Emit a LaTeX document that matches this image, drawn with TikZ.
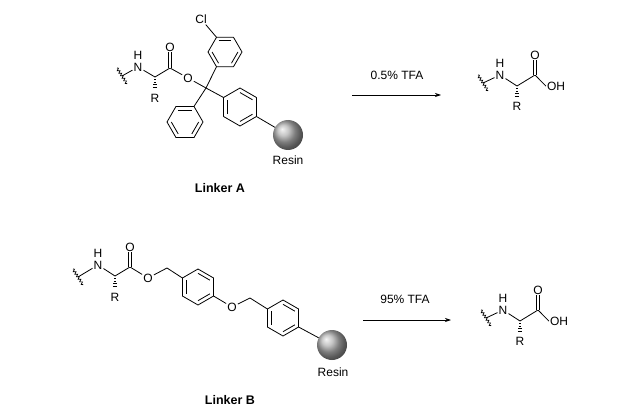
\documentclass[tikz,border=0pt]{standalone}
\usepackage{fontspec}
\setmainfont{Liberation Sans}
\usetikzlibrary{calc,arrows.meta,decorations.pathmorphing,shadings}
\newcommand\hexr[5]{%
 \foreach \k in {0,...,5} {\coordinate (#1-\k) at ($(#2,#3)+(#5+60*\k:#4)$);}
 \coordinate (#1-c) at (#2,#3);
 \draw[bond] (#1-0)--(#1-1)--(#1-2)--(#1-3)--(#1-4)--(#1-5)--cycle;
 \foreach \a/\b in {0/1,2/3,4/5}{\draw[bond] ($(#1-c)!0.76!(#1-\a)$) -- ($(#1-c)!0.76!(#1-\b)$);}
}
\newcommand\hashb[2]{% Ca coordinate x,y (downwards)
 \foreach \t in {0.15,0.35,0.55,0.75}{\draw[line width=0.6pt] ($(#1,#2)+(-0.6-2*\t,14*\t)$) -- ($(#1,#2)+(0.6+2*\t,14*\t)$);}
}
\begin{document}
\begin{tikzpicture}[x=1pt,y=-1pt,
  bond/.style={line width=0.8pt,line join=round},
  atom/.style={inner sep=1pt,font=\fontsize{12}{13}\selectfont},
  lbl/.style={inner sep=1pt,font=\fontsize{12}{13}\selectfont},
  title/.style={inner sep=1pt,font=\fontsize{12.5}{14}\selectfont\bfseries},
  resin/.style={circle,minimum size=30pt,inner sep=0pt,ball color=gray!60},
  wav/.style={line width=0.7pt,decorate,decoration={snake,segment length=3pt,amplitude=1.2pt}},
  dbl/.style={line width=0.8pt,double,double distance=2pt},
  rxn/.style={line width=0.7pt,-{Stealth[length=6pt,width=4pt]}}]
\useasboundingbox (0,0) rectangle (642,417);
% ---------- Linker A ----------
\coordinate (wA) at (122,76);
\draw[wav] ($(wA)+(-5,-8)$) -- ($(wA)+(5,8)$);
\node[atom] (NA) at (138,67) {N};
\node[atom] (HA) at (138,55) {H};
\coordinate (CaA) at (155,77);
\node[atom] (RA) at (155,98) {R};
\coordinate (CA) at (170,68);
\node[atom] (OA) at (170,47) {O};
\node[atom] (OeA) at (188,78) {O};
\coordinate (CtA) at (206,88);
\draw[bond] (wA) -- (NA) -- (CaA) -- (CA) -- (OeA) -- (CtA);
\draw[dbl] (CA) -- (OA);
\hashb{155}{77}
\hexr{A1}{225}{52}{17}{0}
\hexr{A2}{240}{107}{19}{30}
\hexr{A3}{185}{122}{18}{0}
\node[atom] (Cl) at (201,19) {Cl};
\draw[bond] (A1-4) -- (Cl);
\draw[bond] (CtA) -- (A1-2);
\draw[bond] (CtA) -- (A2-3);
\draw[bond] (CtA) -- (A3-5);
\node[resin] (ballA) at (288,135) {};
\draw[bond] (A2-0) -- (ballA);
\node[lbl] (resA) at (288,160) {Resin};
\node[title] (titA) at (220,188) {Linker A};
% arrow A
\coordinate (a1) at (352,95);
\coordinate (a2) at (441,95);
\draw[rxn] (a1) -- (a2);
\node[lbl] (tA) at (397,75) {0.5\% TFA};
% product A
\coordinate (wP) at (483,83);
\draw[wav] ($(wP)+(-5,-8)$) -- ($(wP)+(5,8)$);
\node[atom] (NP) at (500,75) {N};
\node[atom] (HP) at (500,63) {H};
\coordinate (CaP) at (517,86);
\node[atom] (RP) at (517,106) {R};
\coordinate (CP) at (535,75);
\node[atom] (OP) at (535,55) {O};
\node[atom] (OHP) at (556,86) {OH};
\draw[bond] (wP) -- (NP) -- (CaP) -- (CP) -- (OHP.west);
\draw[dbl] (CP) -- (OP);
\hashb{517}{86}
% ---------- Linker B ----------
\coordinate (wB) at (78,277);
\draw[wav] ($(wB)+(-5,-8)$) -- ($(wB)+(5,8)$);
\node[atom] (NB) at (98,265) {N};
\node[atom] (HB) at (98,253) {H};
\coordinate (CaB) at (115,276);
\node[atom] (RB) at (115,297) {R};
\coordinate (CB) at (130,267);
\node[atom] (OB) at (130,247) {O};
\node[atom] (OeB) at (148,278) {O};
\coordinate (M1) at (167,268);
\draw[bond] (wB) -- (NB) -- (CaB) -- (CB) -- (OeB) -- (M1);
\draw[dbl] (CB) -- (OB);
\hashb{115}{276}
\hexr{B1}{198}{287}{18}{30}
\draw[bond] (M1) -- (B1-3);
\node[atom] (Oe2) at (232,307) {O};
\coordinate (M2) at (250,298);
\draw[bond] (B1-0) -- (Oe2) -- (M2);
\hexr{B2}{283}{318}{18}{30}
\draw[bond] (M2) -- (B2-3);
\node[resin] (ballB) at (332,345) {};
\draw[bond] (B2-0) -- (ballB);
\node[lbl] (resB) at (333,372) {Resin};
\node[title] (titB) at (230,400) {Linker B};
% arrow B
\coordinate (b1) at (363,320);
\coordinate (b2) at (451,320);
\draw[rxn] (b1) -- (b2);
\node[lbl] (tB) at (405,299) {95\% TFA};
% product B
\coordinate (wQ) at (486,318);
\draw[wav] ($(wQ)+(-5,-8)$) -- ($(wQ)+(5,8)$);
\node[atom] (NQ) at (503,310) {N};
\node[atom] (HQ) at (503,298) {H};
\coordinate (CaQ) at (520,321);
\node[atom] (RQ) at (520,341) {R};
\coordinate (CQ) at (538,310);
\node[atom] (OQ) at (538,290) {O};
\node[atom] (OHQ) at (559,321) {OH};
\draw[bond] (wQ) -- (NQ) -- (CaQ) -- (CQ) -- (OHQ.west);
\draw[dbl] (CQ) -- (OQ);
\hashb{520}{321}
\end{tikzpicture}
\end{document}
